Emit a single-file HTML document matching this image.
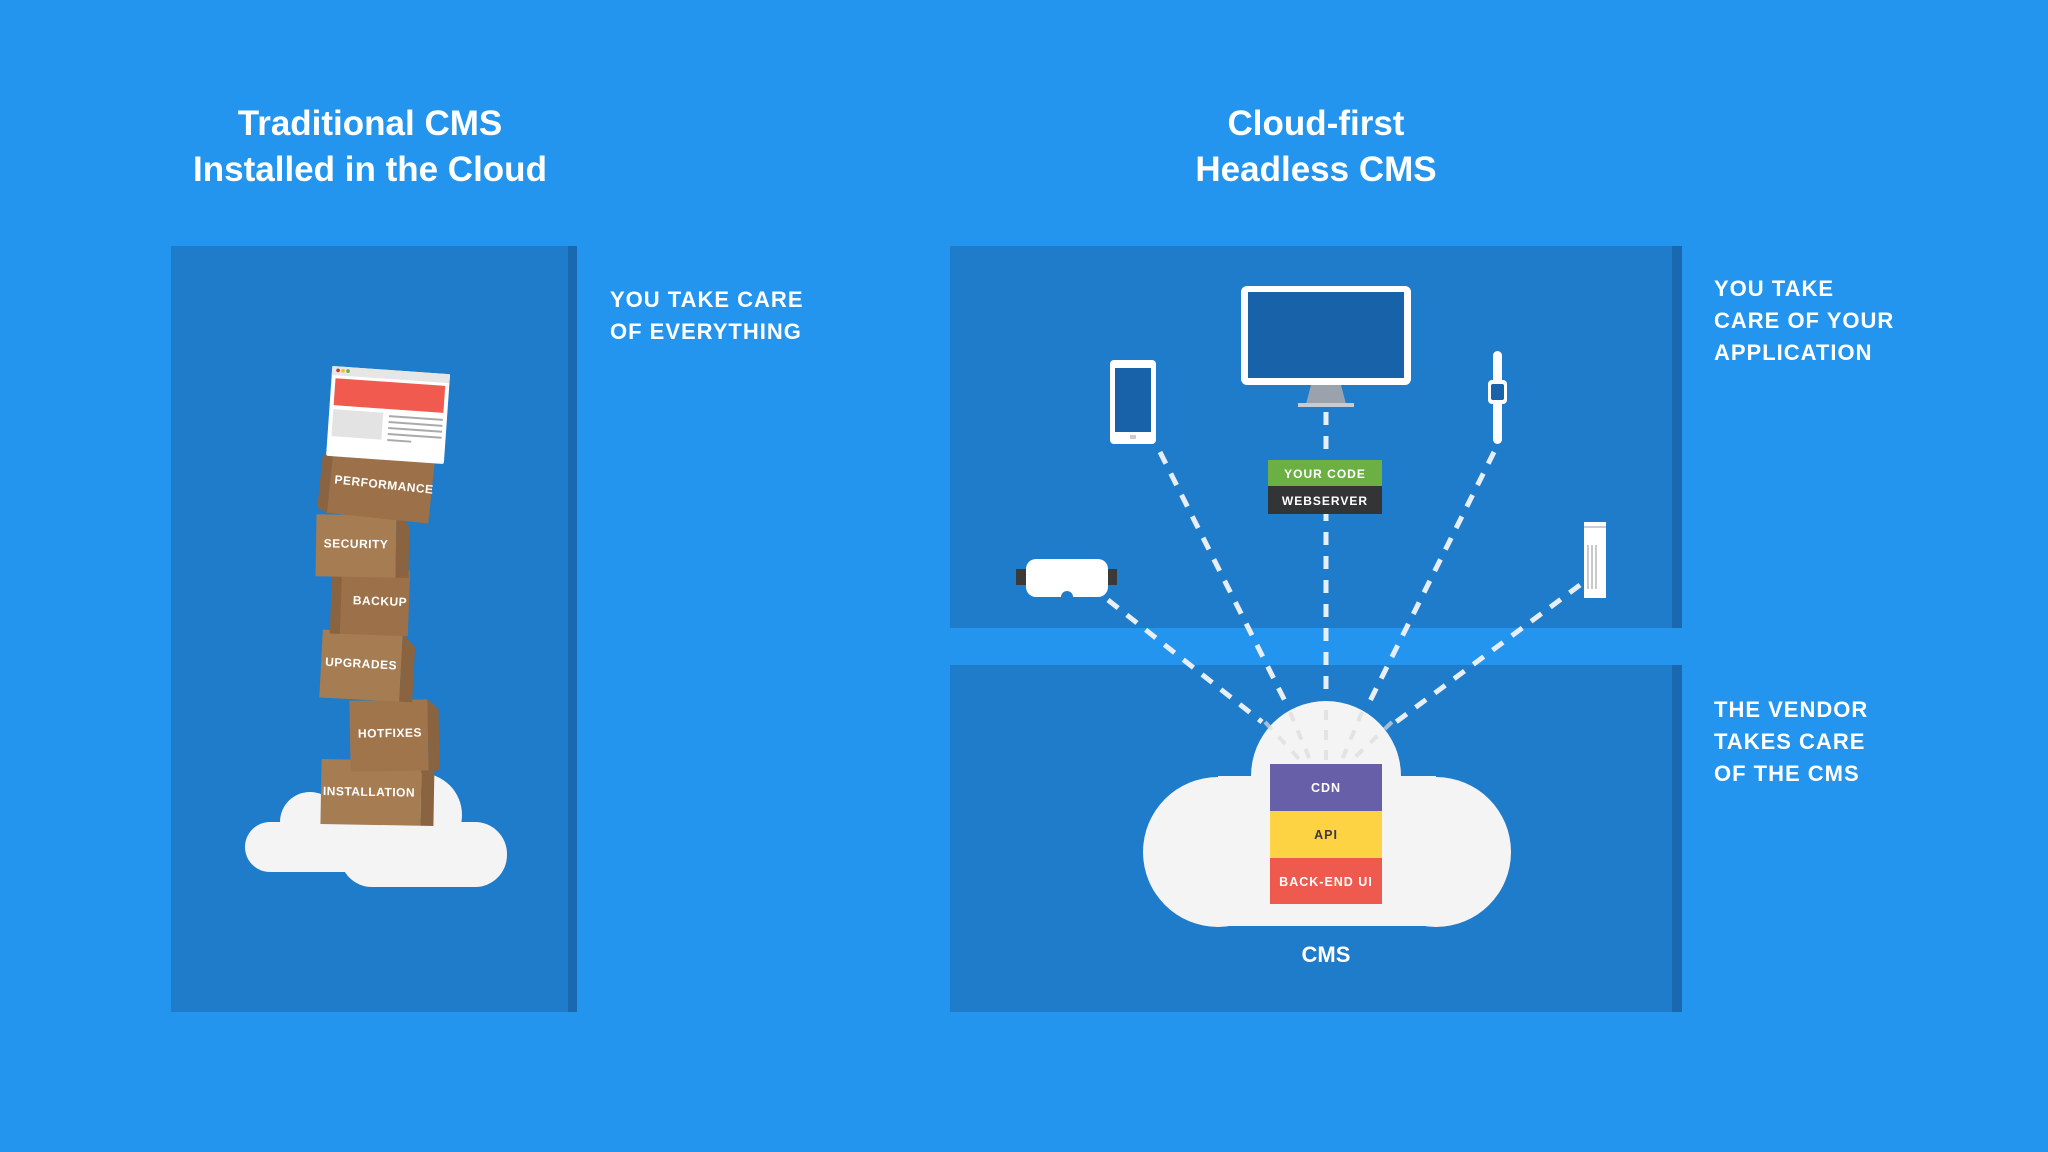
<!DOCTYPE html>
<html><head><meta charset="utf-8"><style>
html,body{margin:0;padding:0;background:#2395ee;}
svg{display:block}
text{font-family:"Liberation Sans",sans-serif;font-weight:bold;fill:#fff}
</style></head><body>
<svg width="2048" height="1152" viewBox="0 0 2048 1152" xmlns="http://www.w3.org/2000/svg">
<rect width="2048" height="1152" fill="#2395ee"/>
<text x="370" y="135" font-size="35" text-anchor="middle">Traditional CMS</text>
<text x="370" y="181" font-size="35" text-anchor="middle">Installed in the Cloud</text>
<text x="1316" y="135" font-size="35" text-anchor="middle">Cloud-first</text>
<text x="1316" y="181" font-size="35" text-anchor="middle">Headless CMS</text>
<g font-size="22" letter-spacing="1">
<text x="610" y="307">YOU TAKE CARE</text>
<text x="610" y="339">OF EVERYTHING</text>
<text x="1714" y="296">YOU TAKE</text>
<text x="1714" y="328">CARE OF YOUR</text>
<text x="1714" y="360">APPLICATION</text>
<text x="1714" y="717">THE VENDOR</text>
<text x="1714" y="749">TAKES CARE</text>
<text x="1714" y="781">OF THE CMS</text>
</g>
<rect x="171" y="246" width="406" height="766" fill="#1e7ccb"/>
<rect x="568" y="246" width="9" height="766" fill="#1a68b0"/>
<rect x="950" y="246" width="732" height="382" fill="#1e7ccb"/>
<rect x="1672" y="246" width="10" height="382" fill="#1a68b0"/>
<rect x="950" y="665" width="732" height="347" fill="#1e7ccb"/>
<rect x="1672" y="665" width="10" height="347" fill="#1a68b0"/>

<g fill="#f4f4f4">
<circle cx="310" cy="822" r="30"/>
<circle cx="420" cy="815" r="42"/>
<rect x="245" y="822" width="190" height="50" rx="25"/>
<rect x="340" y="822" width="167" height="65" rx="32"/>
</g>
<g font-size="12" letter-spacing="0.5">
<g transform="rotate(1 378 792)"><rect x="321" y="760" width="100" height="65" fill="#a67c52"/><polygon points="421,760 434,768 434,825 421,825" fill="#8a6440"/><text x="369" y="796" text-anchor="middle">INSTALLATION</text></g>
<g transform="rotate(-1 395 735)"><rect x="350" y="700" width="78" height="71" fill="#a0754c"/><polygon points="428,700 439,710 439,771 428,771" fill="#8a6440"/><text x="390" y="737" text-anchor="middle">HOTFIXES</text></g>
<g transform="rotate(3 368 666)"><rect x="321" y="632" width="80" height="68" fill="#a67c52"/><polygon points="401,632 414,645 414,700 401,700" fill="#8a6440"/><text x="361" y="668" text-anchor="middle">UPGRADES</text></g>
<g transform="rotate(2 374 602)"><rect x="331" y="569" width="78" height="66" fill="#9c7049"/><polygon points="331,569 341,569 341,635 331,635" fill="#8a6440"/><text x="380" y="605" text-anchor="middle">BACKUP</text></g>
<g transform="rotate(1 362 546)"><rect x="316" y="515" width="80" height="62" fill="#a67c52"/><polygon points="396,515 409,525 409,577 396,577" fill="#8a6440"/><text x="356" y="548" text-anchor="middle">SECURITY</text></g>
<g transform="rotate(6 378 485)"><rect x="330" y="452" width="102" height="66" fill="#9c7049"/><polygon points="330,452 320,462 320,514 330,518" fill="#8a6440"/><text x="384" y="488" text-anchor="middle">PERFORMANCE</text></g>
</g>
<g transform="rotate(4 388 416)">
<rect x="329" y="370" width="118" height="90" fill="#fff" rx="2"/>
<rect x="329" y="370" width="118" height="9" fill="#e6e6e6"/>
<circle cx="335" cy="374" r="1.8" fill="#c0392b"/><circle cx="340" cy="374" r="1.8" fill="#f1c40f"/><circle cx="345" cy="374" r="1.8" fill="#6ab04c"/>
<rect x="333" y="382" width="110" height="27" fill="#f05a4f"/>
<rect x="333" y="413" width="50" height="27" fill="#e3e3e3"/>
<g fill="#aaa"><rect x="389" y="415" width="54" height="2"/><rect x="389" y="421" width="54" height="2"/><rect x="389" y="427" width="54" height="2"/><rect x="389" y="433" width="54" height="2"/><rect x="389" y="439" width="24" height="2"/></g>
</g>

<g stroke="#e8eef5" stroke-width="5" stroke-dasharray="13 11" fill="none">
<line x1="1326" y1="412" x2="1326" y2="700"/>
<line x1="1160" y1="452" x2="1287" y2="705"/>
<line x1="1494" y1="452" x2="1368" y2="705"/>
<line x1="1108" y1="600" x2="1262" y2="722"/>
<line x1="1580" y1="585" x2="1396" y2="722"/>
</g>
<g fill="#f4f4f4">
<circle cx="1218" cy="852" r="75"/>
<circle cx="1436" cy="852" r="75"/>
<circle cx="1326" cy="776" r="75"/>
<rect x="1218" y="776" width="218" height="150"/>
<rect x="1251" y="776" width="150" height="80"/>
</g>
<g stroke="#dcdcdc" stroke-width="4" stroke-dasharray="10 10" fill="none" opacity="0.7">
<line x1="1326" y1="710" x2="1326" y2="760"/>
<line x1="1290" y1="712" x2="1310" y2="760"/>
<line x1="1362" y1="712" x2="1342" y2="760"/>
<line x1="1265" y1="722" x2="1300" y2="760"/>
<line x1="1392" y1="722" x2="1352" y2="760"/>
</g>
<rect x="1270" y="764" width="112" height="47" fill="#675fa8"/>
<rect x="1270" y="811" width="112" height="47" fill="#fdd243"/>
<rect x="1270" y="858" width="112" height="46" fill="#ef5a4e"/>
<g font-size="12.5" letter-spacing="1" text-anchor="middle">
<text x="1326" y="792">CDN</text>
<text x="1326" y="839" style="fill:#3a3a3a">API</text>
<text x="1326" y="886">BACK-END UI</text>
</g>
<text x="1326" y="962" font-size="22" text-anchor="middle">CMS</text>

<rect x="1268" y="460" width="114" height="26" fill="#6cb043"/>
<rect x="1268" y="486" width="114" height="28" fill="#333436"/>
<g font-size="12" letter-spacing="1" text-anchor="middle">
<text x="1325" y="478">YOUR CODE</text>
<text x="1325" y="505">WEBSERVER</text>
</g>

<rect x="1241" y="286" width="170" height="99" rx="6" fill="#fff"/>
<rect x="1248" y="292" width="156" height="86" fill="#1762a8"/>
<polygon points="1311,385 1341,385 1346,404 1306,404" fill="#9aa3ad"/>
<rect x="1298" y="403" width="56" height="4" fill="#c5ccd3"/>
<rect x="1110" y="360" width="46" height="84" rx="4" fill="#fff"/>
<rect x="1115" y="368" width="36" height="64" fill="#1762a8"/>
<rect x="1130" y="435" width="6" height="4" fill="#ccc"/>
<rect x="1493" y="351" width="9" height="93" rx="4.5" fill="#fff"/>
<rect x="1488" y="380" width="19" height="24" rx="4" fill="#fff"/>
<rect x="1491" y="384" width="13" height="16" rx="2" fill="#1762a8"/>
<rect x="1016" y="569" width="12" height="16" fill="#3a3a3a"/>
<rect x="1105" y="569" width="12" height="16" fill="#3a3a3a"/>
<path d="M1036 559 h62 a10 10 0 0 1 10 10 v18 a10 10 0 0 1 -10 10 h-25 a6 6 0 0 0 -12 0 h-25 a10 10 0 0 1 -10 -10 v-18 a10 10 0 0 1 10 -10z" fill="#fff"/>
<rect x="1584" y="522" width="22" height="76" fill="#fff"/>
<rect x="1584" y="526" width="22" height="2" fill="#ccc"/>
<g fill="#bbb">
<rect x="1587" y="545" width="2" height="44" opacity="0.8"/><rect x="1591" y="545" width="2" height="44" opacity="0.8"/><rect x="1595" y="545" width="2" height="44" opacity="0.8"/>
</g>
</svg>
</body></html>
